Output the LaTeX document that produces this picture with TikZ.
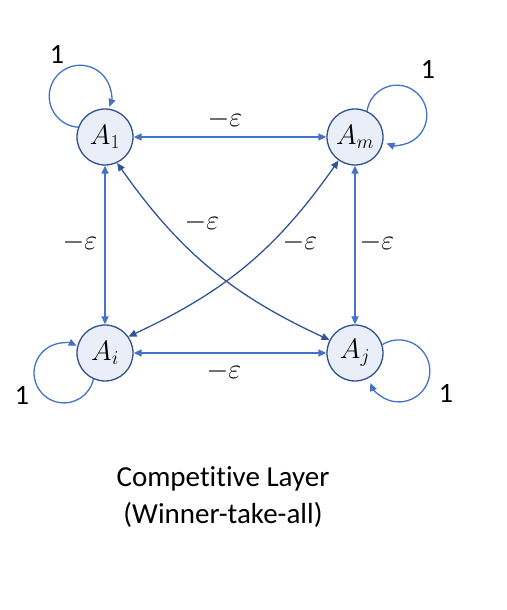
\documentclass[tikz,border=0pt]{standalone}
\usepackage{fix-cm}
\usepackage{amsmath,amssymb}
\usepackage{fontspec}
\setmainfont{Carlito}[Ligatures={NoCommon}]
\usetikzlibrary{arrows.meta}

\begin{document}
\begin{tikzpicture}[x=1pt,y=1pt,
  unit/.style={circle,draw=unitborder,fill=unitfill,line width=1.3pt,minimum size=56pt,inner sep=0pt,font=\fontsize{28}{32}\selectfont},
  link/.style={draw=linkblue,line width=1.3pt,{Triangle[length=8pt,width=7pt]}-{Triangle[length=8pt,width=7pt]}},
  crosslink/.style={link,draw=crossblue},
  selfloop/.style={draw=linkblue,line width=1.3pt,-{Triangle[length=8pt,width=7pt]}},
  weight/.style={font=\fontsize{28}{32}\selectfont,inner sep=0pt}]
\definecolor{linkblue}{HTML}{4472C4}
\definecolor{crossblue}{HTML}{2F5597}
\definecolor{unitborder}{HTML}{2F528F}
\definecolor{unitfill}{HTML}{E9EEF8}
\useasboundingbox (0.000000,0.000000) rectangle (506.000000,610.000000);
% Drawing units
\node[unit] (A1) at (105.000000,473.000000) {$A_1$};
\node[unit] (Am) at (355.000000,473.000000) {$A_m$};
\node[unit] (Ai) at (105.000000,257.000000) {$A_i$};
\node[unit] (Aj) at (355.000000,257.000000) {$A_j$};
% Done with units; drawing links
\draw[link] (A1) -- (Am);
\draw[link] (A1) -- (Ai);
\draw[link] (Am) -- (Aj);
\draw[link] (Ai) -- (Aj);
\draw[crosslink] (A1.-65) to[bend right=15] (Aj.153);
\draw[crosslink] (Ai.35) to[bend right=15] (Am.235);
% Done with links; drawing self loops
\draw[selfloop] (A1.160) arc[start angle=266,end angle=-20,radius=31];
\draw[selfloop] (Am.65) arc[start angle=172,end angle=-110,radius=30];
\draw[selfloop] (Ai.246) arc[start angle=-12,end angle=-295,radius=30];
\draw[selfloop] (Aj.17) arc[start angle=122,end angle=-157,radius=31];
% Done with self loops; drawing weights
\node[weight] (w1) at (57.000000,556.000000) {1};
\node[weight] (wm) at (428.000000,541.000000) {1};
\node[weight] (wi) at (22.000000,215.000000) {1};
\node[weight] (wj) at (446.000000,217.000000) {1};
\node[weight] (e1m) at (225.000000,490.000000) {$-\varepsilon$};
\node[weight] (e1i) at (80.000000,367.000000) {$-\varepsilon$};
\node[weight] (e1j) at (202.000000,387.000000) {$-\varepsilon$};
\node[weight] (eim) at (300.000000,367.000000) {$-\varepsilon$};
\node[weight] (emj) at (377.000000,367.000000) {$-\varepsilon$};
\node[weight] (eij) at (224.000000,238.000000) {$-\varepsilon$};
% Done with weights; drawing caption
\node[align=center,font=\fontsize{29}{37}\selectfont] (caption) at (223.000000,113.000000) {Competitive Layer\\ (Winner-take-all)};
\end{tikzpicture}
\end{document}
